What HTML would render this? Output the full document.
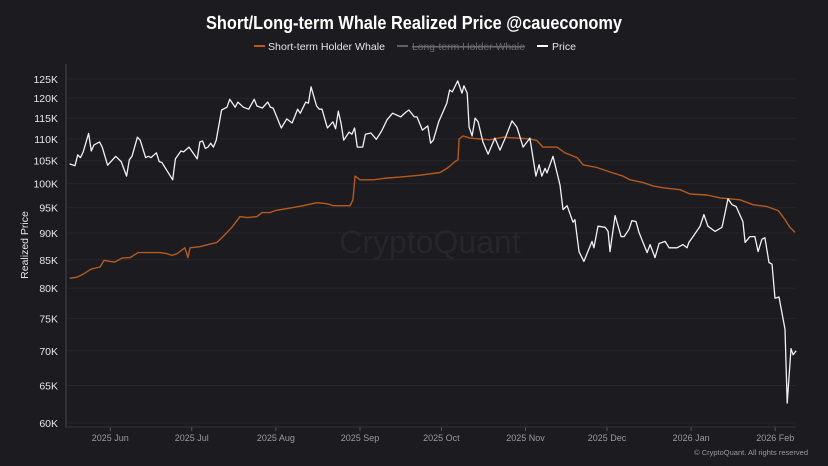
<!DOCTYPE html>
<html><head><meta charset="utf-8"><style>
html,body{margin:0;padding:0;background:#1b1b20;}
svg{display:block;font-family:"Liberation Sans",sans-serif;}
</style></head><body>
<svg id="chart" width="828" height="466" viewBox="0 0 828 466">
<rect x="0" y="0" width="828" height="466" fill="#1b1b20"/>
<text x="414" y="29" text-anchor="middle" fill="#ffffff" font-size="18" font-weight="bold" textLength="416" lengthAdjust="spacingAndGlyphs">Short/Long-term Whale Realized Price @caueconomy</text>
<g>
 <g><line x1="254" y1="46" x2="265" y2="46" stroke="#b85a1c" stroke-width="2"/><text x="268" y="50" fill="#e6e6e6" font-size="10.5" textLength="117" lengthAdjust="spacingAndGlyphs">Short-term Holder Whale</text></g>
 <g><line x1="397" y1="46" x2="408" y2="46" stroke="#777" stroke-width="1.5"/><text x="412" y="50" fill="#6a6a70" font-size="10.5" text-decoration="line-through" textLength="113" lengthAdjust="spacingAndGlyphs">Long-term Holder Whale</text><line x1="412" y1="46.5" x2="525" y2="46.5" stroke="#6a6a70" stroke-width="1"/></g>
 <g><line x1="537" y1="46" x2="548" y2="46" stroke="#fff" stroke-width="2"/><text x="552" y="50" fill="#e6e6e6" font-size="10.5">Price</text></g>
</g>
<text x="430" y="253" text-anchor="middle" fill="#26262c" font-size="32">CryptoQuant</text>
<g id="grid"></g>
<g id="yticks"></g>
<g id="xticks"></g>
<line x1="66" y1="64" x2="66" y2="428" stroke="#44444a" stroke-width="1"/>
<line x1="66" y1="427" x2="796" y2="427" stroke="#33333a" stroke-width="1"/>
<text transform="translate(28,245) rotate(-90)" text-anchor="middle" fill="#e6e6e6" font-size="10.5">Realized Price</text>
<g id="series"></g>
<text x="808" y="455" text-anchor="end" fill="#9a9aa0" font-size="7.5">© CryptoQuant. All rights reserved</text>
</svg>
<script>
// days since 2025-05-17
const yTickValues = [60,65,70,75,80,85,90,95,100,105,110,115,120,125];
const monthLabels = ["2025 Jun","2025 Jul","2025 Aug","2025 Sep","2025 Oct","2025 Nov","2025 Dec","2026 Jan","2026 Feb"];
const monthDays = [15,45,76,107,137,168,198,229,260];
const priceDays = [0,2,3,4,5,7,8,9,11,12,14,17,19,21,22,23,25,26,28,29,30,32,33,34,38,39,41,42,44,47,48,49,50,51,52,53,54,56,58,59,61,62,64,66,68,69,71,73,74,75,78,80,82,84,85,87,88,89,91,92,93,95,97,98,99,100,101,103,104,105,106,108,109,111,113,115,117,119,122,124,125,127,128,130,132,133,134,136,139,140,141,143,144.6,145.3,146.5,147.2,148.3,149.4,150.5,152.3,154.2,156.7,158.6,160.5,163,164.8,167.1,169.6,171.8,173,174,175.2,175.9,178.1,180.7,181.8,183.3,185.5,186.2,187.7,189.5,192.5,193.2,194.7,197.3,198.4,199.1,201,203.2,204.3,206.1,207.2,208.7,209.8,212.8,213.9,215.7,217.2,219.4,220.9,223.8,226,227.5,228.2,229.7,232.3,233.7,235.2,237.8,240.4,240.8,242.6,244.1,245.6,248.1,248.9,250.7,252.5,253.7,255.1,256.2,257.7,258.8,259.9,261.4,263.6,264.4,265.8,266.6,267.7];
const priceValues = [104.3,103.9,106.3,105.7,107.0,111.3,107.2,108.6,109.3,108.1,104.0,106.0,104.8,101.6,105.2,106.0,110.4,109.7,105.7,106.0,105.7,106.8,104.8,104.6,100.8,105.4,107.2,107.0,108.1,105.4,109.3,109.5,107.8,108.1,109.0,108.1,109.7,117.0,117.7,119.7,117.7,119.0,117.7,117.2,119.7,118.0,117.5,119.0,117.7,117.5,112.6,114.8,113.8,117.2,116.2,119.0,118.7,122.9,118.0,117.2,117.2,112.6,114.1,112.4,116.7,113.8,109.7,111.6,111.1,112.6,108.1,108.1,111.1,111.4,109.9,111.9,114.6,116.2,115.3,116.5,117.0,115.3,115.3,112.1,113.1,109.0,109.7,114.1,118.7,122.1,121.6,124.5,121.3,123.2,121.3,112.8,110.7,115.0,114.1,109.3,106.5,110.2,107.4,110.2,114.3,112.8,108.1,110.2,101.6,104.1,101.6,103.3,102.3,106.0,99.7,94.6,95.4,92.1,92.6,86.5,84.7,88.4,87.2,91.3,91.1,90.3,86.5,93.4,89.3,89.3,90.7,92.4,92.2,90.1,86.3,87.8,85.4,88.0,88.4,87.2,87.2,87.8,87.2,88.2,89.3,91.3,93.6,91.3,90.3,91.1,92.1,96.8,95.6,95.2,92.2,88.2,89.3,89.3,86.5,88.8,89.1,84.5,84.2,78.3,78.5,73.3,62.6,70.3,69.4,70.0];
const sthDays = [0,2.7,4.9,7.9,11.2,12.7,14.9,16.7,19.3,22.3,25.2,28.5,33.3,35.9,37.7,39.6,42.5,43.6,44.4,48,51,54.3,56.5,59.8,62.8,65.4,69,70.9,73.8,75.7,80.1,82.3,86,91.2,94.8,97.1,103.3,104.4,105.2,107,111.8,117,121.8,129.1,136.5,139.5,142,143.1,143.5,145,147.5,154.9,159.7,164.8,169.6,172.2,174.4,179.6,182.5,184.4,187,189.2,194.3,199.1,203.9,206.5,211.3,215,218.7,224.9,228.6,234.9,239.7,247,251.8,257,261.1,263.6,265.4,267.3];
const sthValues = [81.7,81.9,82.4,83.3,83.7,84.9,84.7,84.6,85.3,85.4,86.3,86.3,86.3,86.1,85.8,86.1,87.2,85.4,87.2,87.4,87.8,88.2,89.3,91.1,93.2,93.0,93.2,94.0,94.0,94.4,94.8,95.0,95.4,96.0,95.8,95.4,95.4,96.6,101.6,100.8,100.8,101.2,101.4,101.8,102.4,103.5,104.8,105.2,110.0,110.7,110.2,109.8,110.4,110.2,110.0,109.6,108.1,108.1,106.8,106.3,105.7,104.1,103.5,102.5,101.6,100.8,100.2,99.5,99.1,98.7,97.8,97.6,97.0,96.6,95.6,95.2,94.4,92.6,91.1,90.1];

const NS = "http://www.w3.org/2000/svg";
const yTop = 79, yBot = 423, vTop = 125, vBot = 60;
function yScale(v){ return yTop + (Math.log(vTop) - Math.log(v)) / (Math.log(vTop) - Math.log(vBot)) * (yBot - yTop); }
function xScale(d){ return 69.6 + d * 2.714; }

const grid = document.getElementById('grid');
const yt = document.getElementById('yticks');
yTickValues.forEach(v => {
  const y = yScale(v);
  const l = document.createElementNS(NS,'line');
  l.setAttribute('x1',67); l.setAttribute('x2',796); l.setAttribute('y1',y); l.setAttribute('y2',y);
  l.setAttribute('stroke','#26262d'); l.setAttribute('stroke-width','1');
  
  
  grid.appendChild(l);
  const t = document.createElementNS(NS,'text');
  t.setAttribute('x',58); t.setAttribute('y',y+4); t.setAttribute('text-anchor','end');
  t.setAttribute('fill','#e6e6e6'); t.setAttribute('font-size','10.5');
  t.textContent = v + 'K';
  
  
  yt.appendChild(t);
});
const xt = document.getElementById('xticks');
monthDays.forEach((d,i) => {
  const x = xScale(d);
  const l = document.createElementNS(NS,'line');
  l.setAttribute('x1',x); l.setAttribute('x2',x); l.setAttribute('y1',427); l.setAttribute('y2',431);
  l.setAttribute('stroke','#55555c');
  
  
  xt.appendChild(l);
  const t = document.createElementNS(NS,'text');
  t.setAttribute('x',x); t.setAttribute('y',441); t.setAttribute('text-anchor','middle');
  t.setAttribute('fill','#9a9aa0'); t.setAttribute('font-size','9');
  t.textContent = monthLabels[i];
  
  
  xt.appendChild(t);
});
function pathFor(days, vals){
  return days.map((d,i)=> (i?'L':'M') + xScale(d).toFixed(1) + ',' + yScale(vals[i]).toFixed(1)).join(' ');
}
const series = document.getElementById('series');
const sth = document.createElementNS(NS,'path');
sth.setAttribute('d', pathFor(sthDays, sthValues));
sth.setAttribute('fill','none'); sth.setAttribute('stroke','#b85a1c'); sth.setAttribute('stroke-width','1.4'); sth.setAttribute('stroke-linejoin','round');


series.appendChild(sth);
const pr = document.createElementNS(NS,'path');
pr.setAttribute('d', pathFor(priceDays, priceValues));
pr.setAttribute('fill','none'); pr.setAttribute('stroke','#f2f2f2'); pr.setAttribute('stroke-width','1.3'); pr.setAttribute('stroke-linejoin','round');


series.appendChild(pr);
</script>
</body></html>
